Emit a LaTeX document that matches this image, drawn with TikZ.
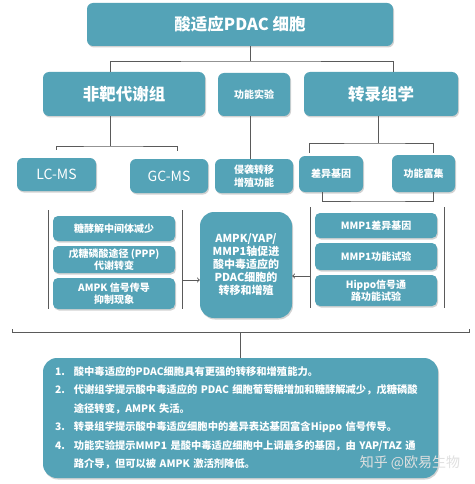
\documentclass[tikz,border=0pt]{standalone}
\usepackage{fontspec}
\setmainfont{Noto Sans CJK SC}
\usetikzlibrary{shadows}

\definecolor{boxteal}{RGB}{84,163,183}
\definecolor{linegray}{RGB}{90,90,90}

\tikzset{
  box/.style={rounded corners=6pt, fill=boxteal, text=white, align=center, inner sep=2pt,
    drop shadow={opacity=0.35, shadow xshift=1pt, shadow yshift=-1.5pt}},
  bigtext/.style={font=\bfseries\fontsize{16.5}{19}\selectfont},
  smalltext/.style={font=\bfseries\fontsize{10}{12.5}\selectfont},
  link/.style={draw=linegray, line width=0.9pt},
}

\begin{document}
\begin{tikzpicture}[x=1pt, y=-1pt]
  \useasboundingbox[fill=white] (0,0) rectangle (474,484);

  % top and second row
  \node[box, bigtext, minimum width=306pt, minimum height=43pt] (cell) at (240,24.5) {酸适应PDAC 细胞};
  \node[box, bigtext, minimum width=162pt, minimum height=44pt] (met) at (124,94) {非靶代谢组};
  \node[box, smalltext, minimum width=72pt, minimum height=43pt] (func) at (254,94.5) {功能实验};
  \node[box, bigtext, minimum width=154pt, minimum height=44pt] (trans) at (381,94) {转录组学};

  % third row
  \node[box, font=\fontsize{14}{16}\selectfont, minimum width=79pt, minimum height=33pt] (lcms) at (56.5,174.5) {LC-MS};
  \node[box, font=\fontsize{14}{16}\selectfont, minimum width=78pt, minimum height=34pt] (gcms) at (169,176) {GC-MS};
  \node[box, smalltext, minimum width=78pt, minimum height=34pt] (inv) at (254,176) {侵袭转移\\增殖功能};
  \node[box, smalltext, minimum width=64pt, minimum height=36pt] (deg) at (331,174) {差异基因};
  \node[box, smalltext, minimum width=63pt, minimum height=37pt] (enr) at (423.5,173.5) {功能富集};

  % lists and centre
  \node[box, smalltext, rounded corners=5pt, minimum width=122pt, minimum height=25pt] (glyco) at (114,228.5) {糖酵解中间体减少};
  \node[box, smalltext, rounded corners=5pt, minimum width=122pt, minimum height=27pt] (ppp) at (114,259.5) {戊糖磷酸途径 (PPP)\\代谢转变};
  \node[box, smalltext, rounded corners=5pt, minimum width=122pt, minimum height=31pt] (ampk) at (114,293.5) {AMPK 信号传导\\抑制现象};
  \node[box, font=\bfseries\fontsize{11}{13}\selectfont, rounded corners=14pt, minimum width=92pt, minimum height=106pt] (core) at (246,265)
    {AMPK/YAP/\\MMP1轴促进\\酸中毒适应的\\PDAC细胞的\\转移和增殖};
  \node[box, smalltext, rounded corners=5pt, minimum width=122pt, minimum height=25pt] (mmpgene) at (376,225.5) {MMP1差异基因};
  \node[box, smalltext, rounded corners=5pt, minimum width=122pt, minimum height=27pt] (mmptest) at (376,256.5) {MMP1功能试验};
  \node[box, smalltext, rounded corners=5pt, minimum width=122pt, minimum height=31pt] (hippo) at (376,290.5) {Hippo信号通\\路功能试验};

  % summary
  \node[box, rounded corners=14pt, minimum width=395pt, minimum height=120pt, text width=371pt, align=left,
    font=\bfseries\fontsize{10.3}{18.5}\selectfont] (summary) at (240.5,418) {%
    \begin{tabular}{@{}l@{\hspace{9pt}}l@{}}
      1. & 酸中毒适应的PDAC细胞具有更强的转移和增殖能力。\\
      2. & 代谢组学提示酸中毒适应的 PDAC 细胞葡萄糖增加和糖酵解减少，戊糖磷酸\\
         & 途径转变，AMPK 失活。\\
      3. & 转录组学提示酸中毒适应细胞中的差异表达基因富含Hippo 信号传导。\\
      4. & 功能实验提示MMP1 是酸中毒适应细胞中上调最多的基因，由 YAP/TAZ 通\\
         & 路介导，但可以被 AMPK 激活剂降低。
    \end{tabular}};
  \node[font=\fontsize{14}{16}\selectfont, text=white!88!black] (mark) at (410,463) {知乎 @欧易生物};

  % connectors
  \coordinate (hub) at (250,61);
  \draw[link] (hub |- cell.south) -- (hub);
  \draw[link] ([xshift=-14pt]met.north) |- (hub) -| ([xshift=12pt]trans.north);

  \coordinate (metfork) at (110,146);
  \draw[link] ([xshift=-14pt]met.south) -- (metfork);
  \draw[link] ([yshift=8pt]lcms.north) |- (metfork) -| ([xshift=8pt,yshift=8pt]gcms.north);

  \draw[link] ([xshift=-4pt]func.south) -- ([xshift=-4pt]inv.north);

  \coordinate (transfork) at (378,143);
  \draw[link] ([xshift=-3pt]trans.south) -- (transfork);
  \draw[link] ([xshift=-22pt,yshift=3pt]deg.north) |- (transfork) -| ([xshift=9.5pt,yshift=2pt]enr.north);

  \coordinate (genebase) at (378,201);
  \draw[link] ([xshift=-9pt]deg.south) |- (genebase) -| ([xshift=9.5pt]enr.south);

  % side bars
  \draw[link] (48,210) -- (48,309);
  \draw[link] (182,210) -- (182,309);
  \draw[link] (310,207) -- (310,308);
  \draw[link] (444,207) -- (444,308);
  \draw[link, ->] (182,280) -- (core.west |- 0,280);
  \draw[link, ->] (310,276) -- (core.east |- 0,276);

  % bottom
  \draw[link] (12,329) -- (12,332) -- (469,332) -- (469,329);
  \draw[link] (summary.north |- 0,332) -- (summary.north);
\end{tikzpicture}
\end{document}
